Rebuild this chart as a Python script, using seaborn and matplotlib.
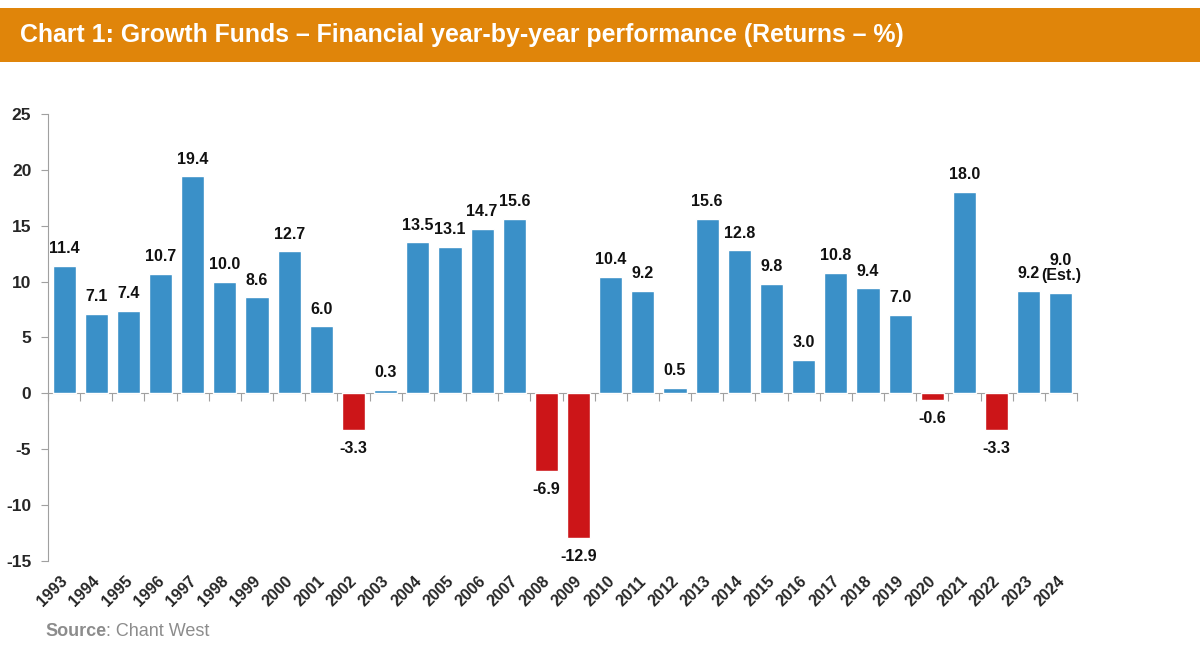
import numpy as np
import pandas as pd
import matplotlib.pyplot as plt
from matplotlib.patches import Rectangle
from matplotlib.transforms import ScaledTranslation
import seaborn as sns

years = [str(y) for y in range(1993, 2025)]
returns = [11.4, 7.1, 7.4, 10.7, 19.4, 10.0, 8.6, 12.7, 6.0, -3.3,
           0.3, 13.5, 13.1, 14.7, 15.6, -6.9, -12.9, 10.4, 9.2, 0.5,
           15.6, 12.8, 9.8, 3.0, 10.8, 9.4, 7.0, -0.6, 18.0, -3.3,
           9.2, 9.0]
bar_labels = [f"{v:.1f}" for v in returns]
bar_labels[-1] = "9.0\n(Est.)"

BLUE = "#3A90C8"
RED = "#CC1518"
ORANGE = "#E0850A"
GREY = "#A0A0A0"

sns.set_style("white")
plt.rcParams["font.family"] = ["Liberation Sans", "DejaVu Sans"]
plt.rcParams["axes.unicode_minus"] = False

df = pd.DataFrame({"year": years, "ret": returns})
df["sign"] = np.where(df["ret"] < 0, "neg", "pos")

fig = plt.figure(figsize=(12, 6.45), dpi=100)
ax = fig.add_axes([0.04, 0.13, 0.8575, 0.6935])

sns.barplot(data=df, x="year", y="ret", hue="sign", order=years,
            palette={"pos": BLUE, "neg": RED}, dodge=False, legend=False,
            width=0.72, saturation=1, ax=ax)

ax.set_xlim(-0.5, len(years) - 0.5)
ax.set_ylim(-15, 25)
ax.set_yticks(range(-15, 30, 5))
ax.set_xlabel("")
ax.set_ylabel("")

for s in ["top", "right", "bottom"]:
    ax.spines[s].set_visible(False)
ax.spines["left"].set_color(GREY)
ax.tick_params(axis="y", left=True, direction="out", length=5, color=GREY,
               labelsize=12.5, pad=7)
for t in ax.get_yticklabels():
    t.set_fontweight("bold")
ax.tick_params(axis="x", length=0, pad=9)
ax.set_xticks(range(len(years)))
ax.set_xticklabels(years, rotation=45, ha="right", rotation_mode="anchor",
                   fontsize=11.5, fontweight="bold")
shift = ScaledTranslation(-4 / 100, 0, fig.dpi_scale_trans)
for t in ax.get_xticklabels():
    t.set_transform(t.get_transform() + shift)

# zero line with category-boundary ticks
zero = ax.secondary_xaxis(15 / 40)
zero.spines["bottom"].set_color(GREY)
zero.set_xticks(np.arange(-0.5, len(years), 1.0))
zero.tick_params(axis="x", bottom=True, direction="out", length=6,
                 color=GREY, labelbottom=False)

for i, (v, lab) in enumerate(zip(returns, bar_labels)):
    off = 7 if v >= 0 else -8
    ax.annotate(lab, (i, v), xytext=(0, off), textcoords="offset points",
                ha="center", va="bottom" if v >= 0 else "top",
                fontsize=11.5, fontweight="bold", color="#111111",
                linespacing=1.0)

# title band
fig.patches.append(Rectangle((0, 0.9039), 1, 0.0837, transform=fig.transFigure,
                             facecolor=ORANGE, edgecolor="none", zorder=0))
fig.text(0.017, 0.9457, "Chart 1: Growth Funds \u2013 Financial year-by-year performance (Returns \u2013 %)",
         color="white", fontsize=17.9, fontweight="bold", va="center", ha="left")

src = fig.text(0.0375, 0.014, "Source", color="#8C8C8C", fontsize=13,
               fontweight="bold", va="baseline", ha="left")
ax.annotate(": Chant West", xy=(1, 0), xycoords=src, ha="left", va="bottom",
            color="#8C8C8C", fontsize=13, annotation_clip=False)

fig.savefig("out.png", dpi=100, facecolor="white")
